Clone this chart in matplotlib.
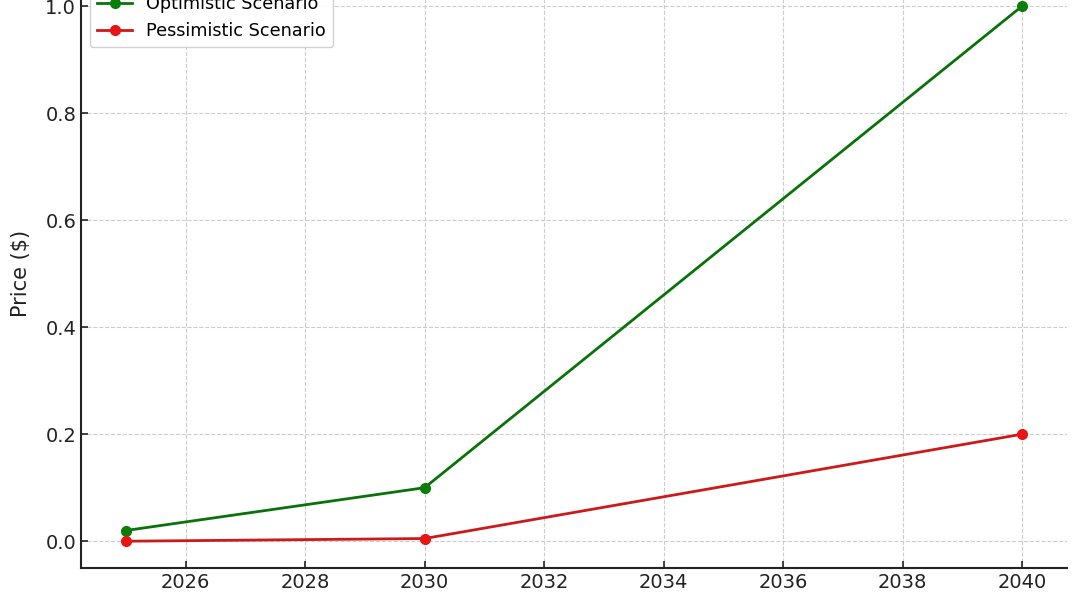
import matplotlib
matplotlib.use("Agg")
import matplotlib.pyplot as plt

years = [2025, 2030, 2040]
optimistic = [0.02, 0.10, 1.00]
pessimistic = [0.0, 0.005, 0.20]
labels = ["Optimistic Scenario", "Pessimistic Scenario"]

fig = plt.figure(figsize=(10.8, 5.93), dpi=100)
ax = fig.add_axes([0.075, 0.0422, 0.913, 0.9928])

ax.plot(years, optimistic, color="#0a720a", marker="o", linewidth=2, markersize=7,
        markerfacecolor="#0b7d0b", markeredgecolor="#0b7d0b", label=labels[0])
ax.plot(years, pessimistic, color="#cc1a1a", marker="o", linewidth=2, markersize=7,
        markerfacecolor="#e81515", markeredgecolor="#e81515", label=labels[1])

ax.set_xlim(2024.25, 2040.75)
ax.set_ylim(-0.05, 1.05)
ax.set_xticks([2026, 2028, 2030, 2032, 2034, 2036, 2038, 2040])
ax.set_yticks([0.0, 0.2, 0.4, 0.6, 0.8, 1.0])
ax.set_ylabel("Price ($)", fontsize=15, color="#222222", labelpad=10)

ax.grid(True, linestyle="--", color="#cccccc", linewidth=0.8)
for s in ["top", "right"]:
    ax.spines[s].set_visible(False)
for s in ["left", "bottom"]:
    ax.spines[s].set_color("#222222")
    ax.spines[s].set_linewidth(1.5)
ax.tick_params(direction="in", labelsize=14, colors="#222222", length=5, width=1.2)

ax.legend(loc="upper left", fontsize=12.7, frameon=True, framealpha=0.9, edgecolor="#cccccc")

fig.savefig("out.png", dpi=100)
